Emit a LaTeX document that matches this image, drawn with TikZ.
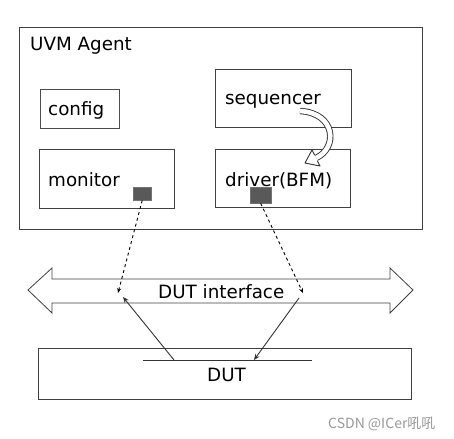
\documentclass[tikz,border=0pt]{standalone}
\usepackage{fontspec}
\setmainfont{DejaVu Sans}
\newfontfamily\cjk{Noto Sans CJK SC}
\usetikzlibrary{arrows.meta}
\begin{document}
\begin{tikzpicture}[x=1pt,y=-1pt,
  box/.style={draw=black!75,line width=0.8pt,fill=white},
  lbl/.style={font=\fontsize{18.3}{21}\selectfont,inner sep=0pt,anchor=base west},
  port/.style={fill=black!65,draw=black!55,line width=0.4pt},
  dasharrow/.style={dashed,line width=0.9pt,-{Stealth[length=5pt,width=4pt]}},
  solidarrow/.style={line width=0.9pt,black!80,-{Stealth[length=6pt,width=5pt]}}]
\useasboundingbox (0,0) rectangle (454,438);
\fill[white] (0,0) rectangle (454,438);
% agent box
\node[box,minimum width=403pt,minimum height=202pt,anchor=north west,inner sep=0pt] (agent) at (19,27) {};
\node[lbl] (agentlbl) at (30,51) {UVM Agent};
\node[box,minimum width=79pt,minimum height=39pt,anchor=north west,inner sep=0pt,draw=black!70] (config) at (40,89) {};
\node[lbl] (configlbl) at (48,116) {config};
\node[box,minimum width=136pt,minimum height=58pt,anchor=north west,inner sep=0pt] (seq) at (215,69) {};
\node[lbl] (seqlbl) at (225,105) {sequencer};
\node[box,minimum width=135pt,minimum height=59pt,anchor=north west,inner sep=0pt] (mon) at (39,149) {};
\node[lbl] (monlbl) at (48,186) {monitor};
\node[box,minimum width=135pt,minimum height=58pt,anchor=north west,inner sep=0pt] (drv) at (215,149) {};
\node[lbl] (drvlbl) at (225,186) {driver(BFM)};
% ports
\node[port,minimum width=18pt,minimum height=13pt,inner sep=0pt,anchor=north west] (monport) at (133,187) {};
\node[port,minimum width=21pt,minimum height=16pt,inner sep=0pt,anchor=north west] (drvport) at (250,187) {};
% hollow curved arrow
\coordinate (cs) at (300,111);
\coordinate (ce) at (316,158);
\draw[line width=6.4pt,black!80] (cs) .. controls (336,113) and (338,148) .. (ce);
\draw[line width=4.6pt,white] (cs) .. controls (336,113) and (338,148) .. (ce);
\fill[white] (312,150) -- (305,163) -- (320,166) -- cycle;
\draw[black!80,line width=0.9pt,line join=round] (314.6,155.1) -- (312,150) -- (305,163) -- (320,166) -- (317.4,160.9);
% double arrow
\draw[fill=white,draw=black!75,line width=0.8pt] (28,290) -- (52,268) -- (52,279) -- (390,279) -- (390,268) -- (413,290) -- (390,313) -- (390,303) -- (52,303) -- (52,313) -- cycle;
\node[lbl] (dutif) at (158,298) {DUT interface};
% DUT box
\node[box,minimum width=373pt,minimum height=51pt,anchor=north west,inner sep=0pt] (dut) at (38,348) {};
\draw[black!80,line width=0.8pt] (143,360) -- (312,360);
\node[lbl] (dutlbl) at (207,381) {DUT};
% connector end points
\coordinate (monend) at (118,293);
\coordinate (drvend) at (303,293);
\coordinate (dutA) at (174,360);
\coordinate (ifA) at (123,297);
\coordinate (ifB) at (299,298);
\coordinate (dutB) at (254,360);
\draw[dasharrow] (monport.south) -- (monend);
\draw[dasharrow] (drvport.south) -- (drvend);
\draw[solidarrow] (dutA) -- (ifA);
\draw[solidarrow] (ifB) -- (dutB);
% watermark
\node[font=\cjk\fontsize{14}{16}\selectfont,text=black!40,anchor=base west,inner sep=0pt] (wm) at (328,428) {CSDN @ICer吼吼};
\end{tikzpicture}
\end{document}
